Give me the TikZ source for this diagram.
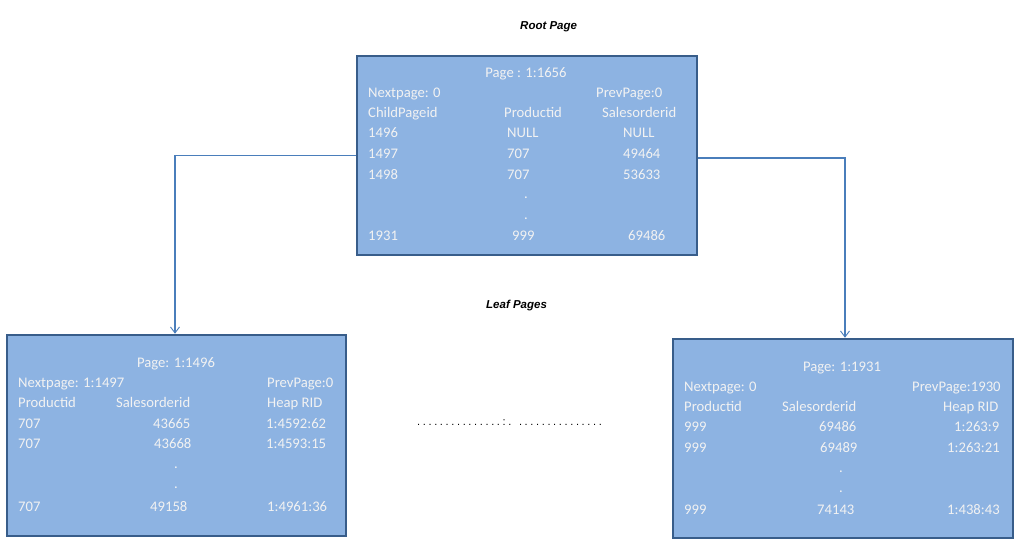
\documentclass[tikz,border=0pt]{standalone}
\usepackage{fontspec}
\setmainfont{Carlito}
\newfontfamily\arialfont{Liberation Sans}
\usetikzlibrary{arrows.meta}
\definecolor{boxfill}{HTML}{8DB3E2}
\definecolor{boxline}{HTML}{385D8A}
\definecolor{conn}{HTML}{4A7EBB}
\definecolor{celltext}{HTML}{F2F2F2}
\tikzset{
  pagebox/.style={draw=boxline, fill=boxfill, line width=2.6pt, inner sep=0pt, rectangle},
  cell/.style={anchor=base west, inner sep=0pt, text=celltext, font=\fontsize{14.67}{17}\selectfont},
  ccell/.style={anchor=base, inner sep=0pt, text=celltext, font=\fontsize{14.67}{17}\selectfont},
  caption/.style={anchor=base west, inner sep=0pt, text=black, font=\arialfont\bfseries\itshape\fontsize{11.5}{13}\selectfont},
  conline/.style={draw=conn, line width=1.1pt, -{Straight Barb[length=6pt,width=9pt,line width=0.9pt]}}
}
\newcommand\tcell[4]{\node[cell] (#1) at (#2,#3) {#4};}
\newcommand\mcell[4]{\node[ccell] (#1) at (#2,#3) {#4};}
\begin{document}
\begin{tikzpicture}[x=1pt,y=-1pt]
\useasboundingbox (0,0) rectangle (1031,541);
\fill[white] (0,0) rectangle (1031,541);

% boxes
\node[pagebox, minimum width=340pt, minimum height=199pt] (root) at (527,155.5) {};
\node[pagebox, minimum width=339pt, minimum height=201pt] (leafL) at (176.5,435.5) {};
\node[pagebox, minimum width=340pt, minimum height=199pt] (leafR) at (843,438.5) {};

% connectors
\draw[conline] (root.west) -| ([xshift=-1.5pt]leafL.north);
\draw[conline] ([yshift=-2.5pt]root.east) -| ([xshift=2pt]leafR.north);

% captions
\node[caption] (rootlbl) at (520,29) {Root Page};
\node[caption] (leaflbl) at (486,308) {Leaf Pages};
\node[anchor=base west, inner sep=0pt, font=\arialfont\fontsize{11}{13}\selectfont\addfontfeature{LetterSpace=24}] (gap) at (417,425) {...............:. ...............};

% root page text
\mcell{rpage}{526}{77}{Page : 1:1656}
\tcell{rnext}{368}{97}{Nextpage: 0}
\tcell{rprev}{596}{97}{PrevPage:0}
\tcell{rh1}{368}{117}{ChildPageid}
\tcell{rh2}{504}{117}{Productid}
\tcell{rh3}{602}{117}{Salesorderid}
\tcell{ra1}{368}{137}{1496}
\tcell{ra2}{507}{137}{NULL}
\tcell{ra3}{623}{137}{NULL}
\tcell{rb1}{368}{158}{1497}
\tcell{rb2}{507}{158}{707}
\tcell{rb3}{623}{158}{49464}
\tcell{rc1}{368}{179}{1498}
\tcell{rc2}{507}{179}{707}
\tcell{rc3}{623}{179}{53633}
\mcell{rd1}{526}{198}{.}
\mcell{rd2}{526}{219}{.}
\tcell{re1}{368}{240}{1931}
\tcell{re2}{512}{240}{999}
\tcell{re3}{628}{240}{69486}

% left leaf text
\mcell{lpage}{176}{367}{Page: 1:1496}
\tcell{lnext}{18}{387}{Nextpage: 1:1497}
\tcell{lprev}{267}{387}{PrevPage:0}
\tcell{lh1}{18}{407}{Productid}
\tcell{lh2}{116}{407}{Salesorderid}
\tcell{lh3}{267}{407}{Heap RID}
\tcell{la1}{18}{428}{707}
\tcell{la2}{153}{428}{43665}
\tcell{la3}{266}{428}{1:4592:62}
\tcell{lb1}{18}{448}{707}
\tcell{lb2}{154}{448}{43668}
\tcell{lb3}{266}{448}{1:4593:15}
\mcell{ld1}{176}{468}{.}
\mcell{ld2}{176}{488}{.}
\tcell{le1}{18}{511}{707}
\tcell{le2}{150}{511}{49158}
\tcell{le3}{267}{511}{1:4961:36}

% right leaf text
\mcell{qpage}{842}{371}{Page: 1:1931}
\tcell{qnext}{684}{391}{Nextpage: 0}
\tcell{qprev}{912}{391}{PrevPage:1930}
\tcell{qh1}{684}{411}{Productid}
\tcell{qh2}{782}{411}{Salesorderid}
\tcell{qh3}{943}{411}{Heap RID}
\tcell{qa1}{684}{431}{999}
\tcell{qa2}{819}{431}{69486}
\tcell{qa3}{954}{431}{1:263:9}
\tcell{qb1}{684}{452}{999}
\tcell{qb2}{820}{452}{69489}
\tcell{qb3}{947}{452}{1:263:21}
\mcell{qd1}{841}{472}{.}
\mcell{qd2}{841}{492}{.}
\tcell{qe1}{684}{514}{999}
\tcell{qe2}{817}{514}{74143}
\tcell{qe3}{947}{514}{1:438:43}
\end{tikzpicture}
\end{document}
